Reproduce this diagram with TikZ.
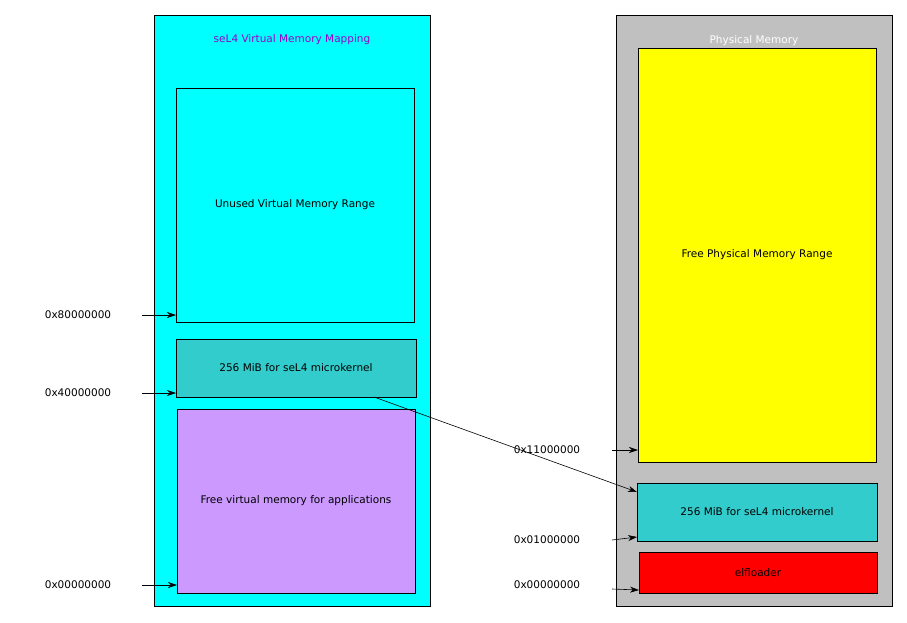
\documentclass[tikz,border=0pt]{standalone}
\usepackage{fontspec}
\setmainfont{DejaVu Sans}
\usetikzlibrary{arrows.meta}
\definecolor{teal2}{HTML}{33CCCC}
\definecolor{lav}{HTML}{CC99FF}
\definecolor{ttl}{HTML}{9900CC}
\definecolor{cy}{HTML}{00FFFF}
\definecolor{ye}{HTML}{FFFF00}
\definecolor{rd}{HTML}{FF0000}
\definecolor{gr}{HTML}{C0C0C0}
\begin{document}
\begin{tikzpicture}[x=1pt,y=-1pt,
  box/.style={draw=black,line width=0.6pt,inner sep=0pt},
  lbl/.style={font=\fontsize{10.5}{12}\selectfont},
  arr/.style={-{Stealth[length=9pt,width=6pt]},line width=0.6pt}]
\useasboundingbox (0,0) rectangle (907,622);
% left
\draw[box,fill=cy] (154,15) rectangle (430,606);
\node[lbl,text=ttl] (t1) at (292,40) {seL4 Virtual Memory Mapping};
\draw[box,fill=cy] (176,88) rectangle (414,322);
\node[lbl] (unused) at (295,205) {Unused Virtual Memory Range};
\draw[box,fill=teal2] (176,339) rectangle (416,397);
\node[lbl] (k1) at (296,368) {256 MiB for seL4 microkernel};
\draw[box,fill=lav] (177,409) rectangle (415,593);
\node[lbl] (free) at (296,501) {Free virtual memory for applications};
\node[lbl] (a1) at (78,315) {0x80000000};
\node[lbl] (a2) at (78,393) {0x40000000};
\node[lbl] (a3) at (78,585) {0x00000000};
\coordinate (s1) at (142,315); \coordinate (e1) at (176,315);
\coordinate (s2) at (142,393); \coordinate (e2) at (176,393);
\coordinate (s3) at (142,585); \coordinate (e3) at (177,585);
\draw[arr] (s1) -- (e1); \draw[arr] (s2) -- (e2); \draw[arr] (s3) -- (e3);
% right
\draw[box,fill=gr] (616,15) rectangle (892,606);
\node[lbl,text=white] (t2) at (754,41) {Physical Memory};
\draw[box,fill=ye] (638,48) rectangle (876,462);
\node[lbl] (fp) at (757,255) {Free Physical Memory Range};
\draw[box,fill=teal2] (637,483) rectangle (877,541);
\node[lbl] (k2) at (757,512) {256 MiB for seL4 microkernel};
\draw[box,fill=rd] (639,552) rectangle (877,593);
\node[lbl] (elf) at (758,573) {elfloader};
\node[lbl] (b1) at (547,450) {0x11000000};
\node[lbl] (b2) at (547,540) {0x01000000};
\node[lbl] (b3) at (547,585) {0x00000000};
\coordinate (u1) at (612,450); \coordinate (v1) at (638,450);
\coordinate (u2) at (612,540); \coordinate (v2) at (637,537);
\coordinate (u3) at (612,589); \coordinate (v3) at (639,590);
\draw[arr] (u1) -- (v1); \draw[arr] (u2) -- (v2); \draw[arr] (u3) -- (v3);
\coordinate (m1) at (374,397); \coordinate (m2) at (637,492);
\draw[arr] (m1) -- (m2);
\end{tikzpicture}
\end{document}
